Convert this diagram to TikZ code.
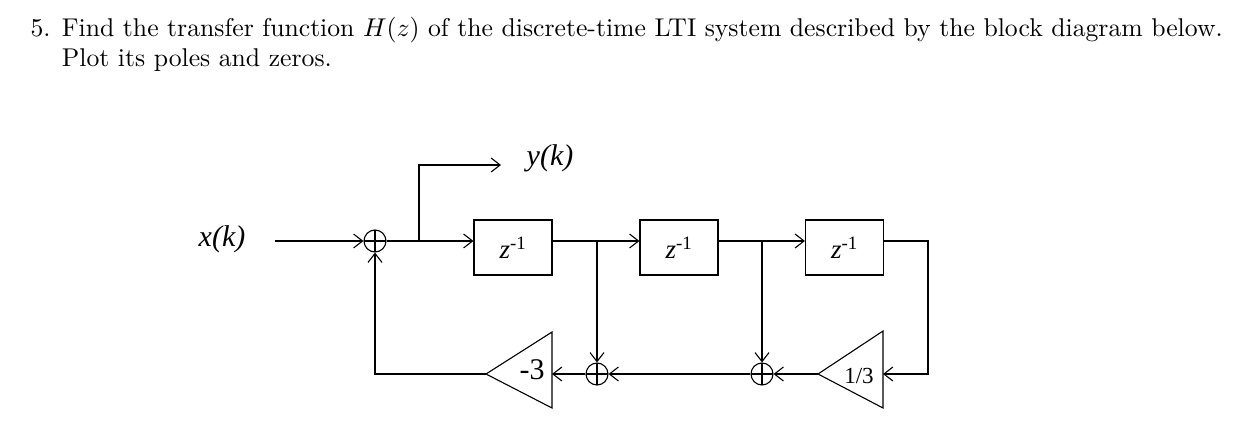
\documentclass[tikz,border=0pt]{standalone}
\usepackage{fontspec}
\newfontfamily\timesf{Liberation Serif}
\usepackage{graphicx}
\usetikzlibrary{arrows.meta}
\newcommand\zinv{{\itshape z}\textsuperscript{-1}}
\begin{document}
\begin{tikzpicture}[x=1pt,y=-1pt,line width=1.1pt,
  arr/.style={->,>={Straight Barb[length=9pt,width=14pt,line width=1.1pt]}},
  delay/.style={draw,minimum width=78pt,minimum height=55pt,inner sep=0pt,font=\timesf\fontsize{27pt}{27pt}\selectfont},
  adder/.style={draw,circle,minimum size=22pt,inner sep=0pt,path picture={\draw (path picture bounding box.north)--(path picture bounding box.south) (path picture bounding box.west)--(path picture bounding box.east);}},
  lbl/.style={font=\timesf\itshape\fontsize{30pt}{30pt}\selectfont,inner sep=0pt}]
\useasboundingbox (0,0) rectangle (1239,441);
\node[anchor=north west,inner sep=0pt] (hdr) at (30,14) {\resizebox{1192pt}{!}{\begin{tabular}{@{}l@{ }l@{}}5.&Find the transfer function $H(z)$ of the discrete-time LTI system described by the block diagram below.\\&Plot its poles and zeros.\end{tabular}}};
\node[lbl] (x) at (222,239) {x(k)};
\node[adder] (s1) at (375,241) {};
\node[delay] (d1) at (513,247.5) {\zinv};
\node[delay] (d2) at (679,247.5) {\zinv};
\node[delay] (d3) at (844.5,247.5) {\zinv};
\node[adder] (s2) at (597,374) {};
\node[adder] (s3) at (762,374) {};
\draw (552,332) -- (552,408) -- (486,374) coordinate (g1a) -- cycle;
\node[font=\timesf\fontsize{30pt}{30pt}\selectfont] (g1) at (532,370) {-3};
\draw (883,331) -- (883,408) -- (818,374) coordinate (g2a) -- cycle;
\node[font=\timesf\fontsize{23pt}{23pt}\selectfont] (g2) at (859,376) {1/3};
\node[lbl] (y) at (550,158) {y(k)};
\coordinate (b0) at (419,241);
\coordinate (b1) at (597,241);
\coordinate (b2) at (762,241);
\draw[arr] (275,241) -- (s1.west);
\draw[arr] (s1.east) -- (d1.west |- s1);
\draw[arr] (b0) -- (419,165) -- (501,165);
\draw[arr] (d1.east |- s1) -- (d2.west |- s1);
\draw[arr] (d2.east |- s1) -- (d3.west |- s1);
\draw[arr] (b1) -- (s2.north);
\draw[arr] (b2) -- (s3.north);
\draw[arr] (d3.east |- s1) -- (928,241) -- (928,374) -- (883,374);
\draw[arr] (g2a) -- (s3.east);
\draw[arr] (s3.west) -- (s2.east);
\draw[arr] (s2.west) -- (552,374);
\draw[arr] (g1a) -- (375,374) -- (s1.south);
\end{tikzpicture}
\end{document}
